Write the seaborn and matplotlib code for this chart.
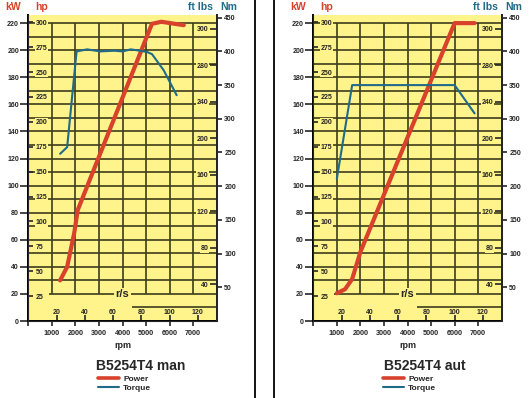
import matplotlib
matplotlib.use("Agg")
import matplotlib.pyplot as plt
import seaborn as sns
from matplotlib.lines import Line2D

# ---- data ----
man_power_rpm = [1350, 1650, 1950, 2100, 5250, 5650, 6600]
man_power_kw = [30, 40, 65, 82, 219.5, 221, 218.5]
man_torque_rpm = [1350, 1650, 2050, 2500, 3050, 3650, 4000, 4350, 4750, 5050, 5250, 5750, 6300]
man_torque_nm = [248, 258, 400, 403, 400, 401, 400, 403, 401, 399, 396, 372, 335]

aut_power_rpm = [1000, 1350, 1650, 2000, 6000, 6850]
aut_power_kw = [20.5, 23.5, 31, 51, 220, 220]
aut_torque_rpm = [1000, 1650, 6000, 6850]
aut_torque_nm = [211, 350, 350, 308]

titles = ["B5254T4 man", "B5254T4 aut"]
kw_ticks = list(range(0, 221, 20))
hp_ticks = list(range(25, 301, 25))
nm_ticks = list(range(50, 451, 50))
ft_ticks = list(range(40, 321, 40))
ft_labels = ["40", "80", "120", "160", "200", "240", "280", "300"]
rpm_ticks = list(range(0, 7001, 1000))
rpm_labels = [""] + [str(v) for v in range(1000, 7001, 1000)]
rs_ticks = list(range(20, 121, 20))

YELLOW = "#fff38c"
GRID = "#3d3d1c"
RED = "#d8412b"
BLUE = "#1f6b88"
W, H = 531, 398

sns.set_style("ticks")
plt.rcParams['font.family'] = ['Liberation Sans', 'DejaVu Sans']
plt.rcParams['font.weight'] = 'bold'


def panel(fig, x0, title, p_rpm, p_kw, t_rpm, t_nm):
    ax = fig.add_axes([x0 / W, 77 / H, 188.4 / W, 306 / H])
    ax.set_facecolor(YELLOW)
    ax.set_xlim(0, 8000)
    ax.set_ylim(0, 226)

    # grid
    ax.hlines(range(30, 221, 10), 0, 8000, color=GRID, lw=1.2, zorder=1)
    ax.hlines(20, 900, 8000, color=GRID, lw=1.2, zorder=1)
    ax.hlines(10, 4400, 8000, color=GRID, lw=1.2, zorder=1)
    ax.vlines(range(1000, 8000, 1000), 20, 220, color=GRID, lw=1.2, zorder=1)
    ax.text(4000, 20, "r/s", ha="center", va="center", fontsize=8, fontweight="bold",
            bbox=dict(fc=YELLOW, ec="none", pad=1), zorder=2)

    for s in ["left", "right", "bottom"]:
        ax.spines[s].set_linewidth(1.3)
        ax.spines[s].set_color("black")
    ax.spines["top"].set_visible(False)

    # kW (outer left)
    ax.set_yticks(kw_ticks)
    ax.set_yticklabels([str(v) for v in kw_ticks])
    ax.tick_params(axis="y", direction="out", length=5.5, width=1.2, labelsize=5, pad=1.2)
    # rpm
    ax.set_xticks(rpm_ticks)
    ax.set_xticklabels(rpm_labels)
    ax.tick_params(axis="x", direction="out", length=3.6, width=1.2, labelsize=5.2, pad=3)

    # hp (inner left)
    hp = ax.secondary_yaxis("left", functions=(lambda k: k / 0.7355, lambda h: h * 0.7355))
    hp.set_zorder(2)
    hp.patch.set_visible(False)
    hp.set_yticks(hp_ticks)
    hp.set_yticklabels([str(v) for v in hp_ticks], ha="left")
    hp.tick_params(direction="in", length=3.6, width=1.2, labelsize=5, pad=-5.3)
    hp.spines["left"].set_linewidth(1.3)
    for lbl in hp.get_yticklabels():
        lbl.set_bbox(dict(fc=YELLOW, ec="none", pad=0.6))

    # r/s (inner bottom)
    rs = ax.secondary_xaxis("bottom", functions=(lambda r: r / 60, lambda s: s * 60))
    rs.set_xticks(rs_ticks)
    rs.set_xticklabels([str(v) for v in rs_ticks])
    rs.tick_params(direction="in", length=4.3, width=1.2, labelsize=5, pad=-9)
    rs.spines["bottom"].set_linewidth(1.3)

    sns.lineplot(x=p_rpm, y=p_kw, ax=ax, color=RED, lw=3, estimator=None,
                 sort=False, label="Power", legend=False, zorder=3)

    # Nm (outer right)
    axn = ax.twinx()
    axn.set_ylim(0, 454)
    axn.spines["top"].set_visible(False)
    axn.spines["right"].set_linewidth(1.3)
    axn.set_yticks(nm_ticks)
    axn.set_yticklabels([str(v) for v in nm_ticks])
    axn.tick_params(axis="y", direction="out", length=3.6, width=1.2, labelsize=5, pad=1.9)

    # ft lbs (inner right)
    ft = axn.secondary_yaxis("right", functions=(lambda n: n / 1.3558, lambda f: f * 1.3558))
    ft.patch.set_visible(False)
    ft.set_yticks(ft_ticks)
    ft.set_yticklabels(ft_labels, ha="right")
    ft.tick_params(direction="in", length=4.7, width=1.2, labelsize=5, pad=-6)
    ft.spines["right"].set_linewidth(1.3)
    for lbl in ft.get_yticklabels():
        lbl.set_bbox(dict(fc=YELLOW, ec="none", pad=0.6))

    sns.lineplot(x=t_rpm, y=t_nm, ax=axn, color=BLUE, lw=1.5, estimator=None,
                 sort=False, label="Torque", legend=False, zorder=3)

    # headers
    fig.text((x0 - 15.5) / W, 1 - 6.5 / H, "kW", color=RED, ha="center", va="center", fontsize=7.5)
    fig.text((x0 + 13) / W, 1 - 6.5 / H, "hp", color=RED, ha="center", va="center", fontsize=7.5)
    fig.text((x0 + 172) / W, 1 - 6.5 / H, "ft lbs", color=BLUE, ha="center", va="center", fontsize=7.5)
    fig.text((x0 + 200) / W, 1 - 6.5 / H, "Nm", color=BLUE, ha="center", va="center", fontsize=7.5)

    fig.text((x0 + 95) / W, 1 - 346 / H, "rpm", ha="center", va="center", fontsize=6.5)
    fig.text((x0 + 112) / W, 1 - 366 / H, title, ha="center", va="center", fontsize=10)

    handles = [Line2D([], [], color=RED, lw=2.6), Line2D([], [], color=BLUE, lw=1.5)]
    axn.legend(handles, ["Power", "Torque"], loc="upper left",
               bbox_to_anchor=((x0 + 70) / W, 1 - 375 / H), bbox_transform=fig.transFigure,
               frameon=False, fontsize=6, handlelength=2.5, handletextpad=0.5,
               labelspacing=0.1, borderpad=0, borderaxespad=0)


fig = plt.figure(figsize=(W / 100, H / 100), dpi=100)
panel(fig, 28.3, titles[0], man_power_rpm, man_power_kw, man_torque_rpm, man_torque_nm)
panel(fig, 313.3, titles[1], aut_power_rpm, aut_power_kw, aut_torque_rpm, aut_torque_nm)

for xp in [255, 273.5]:
    fig.add_artist(Line2D([xp / W, xp / W], [0, 1], color="black", lw=1.3,
                          transform=fig.transFigure))

fig.savefig("out.png", dpi=100)
